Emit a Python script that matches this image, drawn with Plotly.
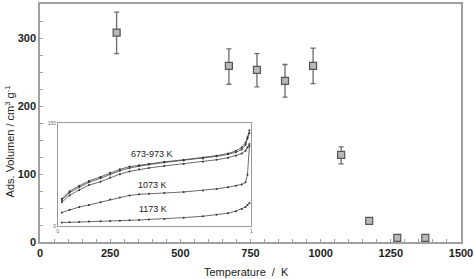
import plotly.graph_objects as go

# Main data
temps = [273, 673, 773, 873, 973, 1073, 1173, 1273, 1373]
ads_vol = [308, 259, 253, 237, 259, 128, 31, 6, 6]
err_plus = [30, 25, 24, 24, 26, 12, 0, 0, 0]
err_minus = [31, 27, 25, 24, 26, 13, 0, 0, 0]

# Inset isotherms
p_rel = [0.02, 0.06, 0.11, 0.16, 0.22, 0.27, 0.32, 0.37, 0.42, 0.47,
         0.55, 0.65, 0.75, 0.82, 0.88, 0.92, 0.95, 0.97, 0.98, 0.99]
iso_a = [38, 49, 57, 64, 70, 76, 81, 85, 88, 90, 93, 96, 99, 102, 105, 108, 112, 119, 128, 136]
iso_b = [40, 51, 59, 66, 72, 78, 83, 87, 89, 91, 94, 97, 100, 103, 106, 110, 115, 122, 130, 140]
iso_c = [35, 45, 53, 60, 65, 71, 76, 80, 83, 85, 88, 91, 94, 97, 100, 103, 106, 110, 115, 120]
iso_1073 = [20, 24, 28, 31, 35, 39, 42, 45, 46.5, 47.5, 48.5, 50, 52, 54.5, 57, 59, 61, 64, 75, 117]
iso_1173 = [5.3, 5.8, 6.3, 6.8, 7.2, 7.7, 8.1, 8.6, 9.1, 9.7, 10.5, 12.5, 14.5, 16.9, 19, 22, 25, 28, 31, 34]
inset_labels = ["673-973 K", "1073 K", "1173 K"]
inset_label_x = [0.485, 0.49, 0.49]
inset_label_y = [105, 60, 25]

fig = go.Figure()

fig.add_trace(go.Scatter(
    x=temps, y=ads_vol, mode="markers",
    marker=dict(symbol="square", size=7, color="#b8b8b8",
                line=dict(color="#555555", width=1.2)),
    error_y=dict(type="data", symmetric=False, array=err_plus, arrayminus=err_minus,
                 color="#6a6a6a", thickness=1.3, width=2.5),
    xaxis="x", yaxis="y", showlegend=False))

for ys in [iso_a, iso_b, iso_c, iso_1073, iso_1173]:
    fig.add_trace(go.Scatter(
        x=p_rel, y=ys, mode="lines+markers",
        line=dict(color="#444444", width=0.8),
        marker=dict(size=2, color="#333333"),
        xaxis="x2", yaxis="y2", showlegend=False))

for t, xx, yy in zip(inset_labels, inset_label_x, inset_label_y):
    fig.add_annotation(text=t, x=xx, y=yy, xref="x2", yref="y2",
                       showarrow=False, font=dict(size=9, color="#222222",
                                                  family="Liberation Sans"))

axis_col = "#a0a0a0"
fig.update_layout(
    width=474, height=279,
    margin=dict(l=40, r=12, t=1, b=37),
    paper_bgcolor="white", plot_bgcolor="white",
    font=dict(family="Liberation Sans", color="#222222"),
    xaxis=dict(range=[0, 1500], dtick=250, showgrid=False, zeroline=False,
               showline=True, mirror=True, linecolor=axis_col, linewidth=1.5,
               ticks="inside", ticklen=3, tickcolor=axis_col,
               minor=dict(dtick=50, ticks="inside", ticklen=3, tickcolor=axis_col),
               tickfont=dict(size=11, family="Liberation Sans", weight="bold"),
               ticklabeloverflow="allow",
               domain=[0, 1]),
    yaxis=dict(range=[0, 350], dtick=100, showgrid=False, zeroline=False,
               showline=True, mirror=True, linecolor=axis_col, linewidth=1.5,
               ticks="inside", ticklen=3, tickcolor=axis_col,
               minor=dict(dtick=25, ticks="inside", ticklen=3, tickcolor=axis_col),
               tickfont=dict(size=11, family="Liberation Sans", weight="bold"),
               domain=[0, 1]),
    xaxis2=dict(range=[0, 1], domain=[0.0427, 0.502], anchor="y2",
                showgrid=False, zeroline=False, showline=True, mirror=True,
                linecolor="#999999", linewidth=1,
                tickvals=[0, 1], ticktext=["0", "1"], ticks="",
                tickfont=dict(size=5, color="#666666")),
    yaxis2=dict(range=[0, 150], domain=[0.0664, 0.498], anchor="x2",
                showgrid=False, zeroline=False, showline=True, mirror=True,
                linecolor="#999999", linewidth=1,
                tickvals=[0, 150], ticktext=["0", "150"], ticks="",
                tickfont=dict(size=5, color="#666666")),
)

fig.add_annotation(text="Temperature  /  K", xref="paper", yref="paper",
                   x=0.49, y=-0.124, showarrow=False, xanchor="center", yanchor="middle",
                   font=dict(size=11, family="Liberation Sans", color="#222222"))
fig.add_annotation(text="Ads. Volumen / cm<sup>3</sup> g<sup>-1</sup>", xref="paper", yref="paper",
                   x=-0.071, y=0.423, showarrow=False, textangle=-90,
                   xanchor="center", yanchor="middle",
                   font=dict(size=11, family="Liberation Sans", color="#222222"))

fig.write_html("out.html")
